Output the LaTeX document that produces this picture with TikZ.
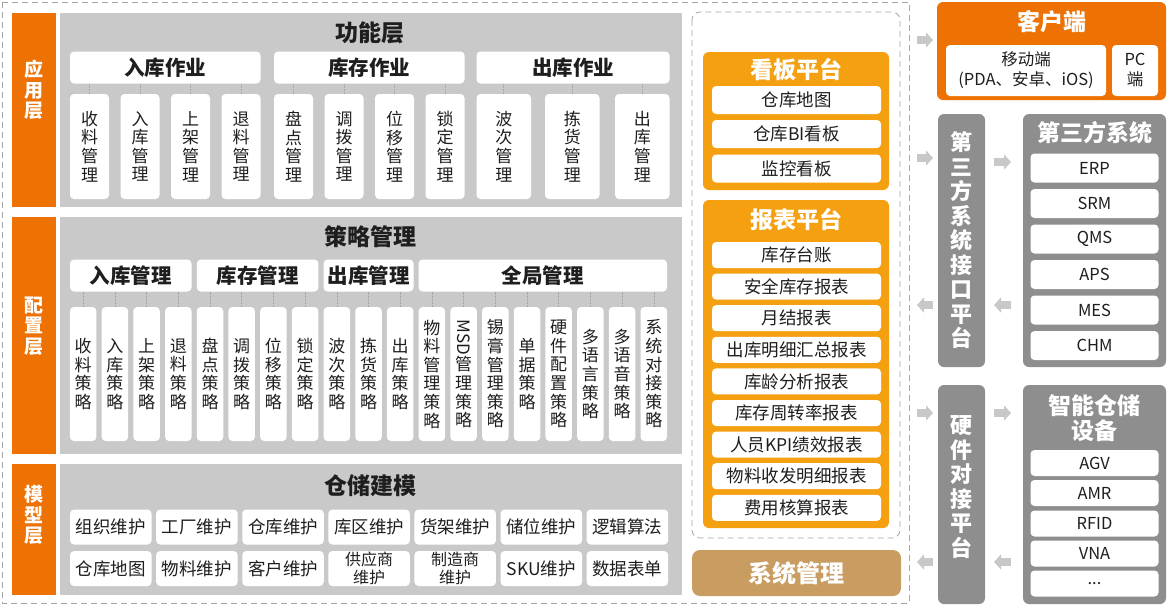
\documentclass[tikz,border=0pt]{standalone}
\usepackage{fontspec}
\usepackage{graphicx}
\setmainfont{Noto Sans CJK SC}
\usetikzlibrary{arrows.meta}
\definecolor{deeporange}{HTML}{ED7203}
\definecolor{lightorange}{HTML}{F4A011}
\definecolor{panelgray}{HTML}{C9C9C9}
\definecolor{bargray}{HTML}{8E8E8E}
\definecolor{sandbrown}{HTML}{C99C61}
\definecolor{arrowgray}{HTML}{C8C8C8}
\definecolor{framegray}{HTML}{A5A5A5}
\definecolor{txtdark}{HTML}{1E1E1E}
\tikzstyle{blk} = [line width=8pt, arrowgray, -{Triangle[length=7pt,width=15pt]}]

\begin{document}
\begin{tikzpicture}[x=1pt, y=-1pt]
    \tikzstyle{every node}=[inner sep=0pt, text=txtdark, font=\fontsize{17}{18.6}\selectfont]
    \tikzstyle{frame} = [draw=framegray, line width=0.8pt, dash pattern=on 6pt off 4pt]
    \tikzstyle{layer} = [fill=deeporange, minimum width=44pt]
    \tikzstyle{layertxt} = [text=white, align=center, font=\fontsize{19}{20.5}\selectfont\bfseries]
    \tikzstyle{panel} = [fill=panelgray, minimum width=622pt]
    \tikzstyle{title} = [font=\fontsize{23}{26}\selectfont\bfseries]
    \tikzstyle{head} = [fill=white, rounded corners=4pt, minimum height=32pt, font=\fontsize{20.5}{24}\selectfont\bfseries]
    \tikzstyle{fitem} = [fill=white, rounded corners=4pt, align=center, minimum width=39pt, minimum height=105pt]
    \tikzstyle{citem} = [fill=white, rounded corners=4pt, align=center, minimum width=26.5pt, minimum height=134pt]
    \tikzstyle{mitem} = [fill=white, rounded corners=4pt, align=center, minimum width=81.5pt, minimum height=35pt, font=\fontsize{17.5}{19}\selectfont]
    \tikzstyle{link} = [draw=gray!70, line width=0.6pt, dash pattern=on 1.5pt off 1.5pt]
    \tikzstyle{platform} = [fill=lightorange, rounded corners=6pt, minimum width=186pt]
    \tikzstyle{ptitle} = [text=white, align=center, font=\fontsize{23}{25}\selectfont\bfseries]
    \tikzstyle{pitem} = [fill=white, rounded corners=4pt, minimum width=169pt, minimum height=26pt, font=\fontsize{17.5}{19}\selectfont]
    \tikzstyle{darkbar} = [fill=bargray, rounded corners=6pt, minimum width=47pt]
    \tikzstyle{darkbox} = [fill=bargray, rounded corners=6pt, minimum width=143pt]
    \tikzstyle{bartxt} = [text=white, align=center, font=\fontsize{22}{24.5}\selectfont\bfseries]
    \tikzstyle{sitem} = [fill=white, rounded corners=4pt, minimum width=128pt, font=\fontsize{16.5}{19}\selectfont]

    \useasboundingbox (0,0) rectangle (1168,606);

    % outer frames
    \draw[frame] (2,2) rectangle (909,603);
    \draw[frame, rounded corners=8pt] (692,12) rectangle (900,538);

    % layers
    \node[layer, minimum height=194pt](l1) at (33.5,110) {};
    \node[layer, minimum height=237pt](l2) at (33.5,335.5) {};
    \node[layer, minimum height=131pt](l3) at (33.5,529.5) {};
    \node[layertxt](t1) at (33.5,90) {应\\用\\层};
    \node[layertxt](t2) at (33.5,326) {配\\置\\层};
    \node[layertxt](t3) at (33.5,515) {模\\型\\层};

    \node[panel, minimum height=194pt](p1) at (370.5,110) {};
    \node[panel, minimum height=237pt](p2) at (370.5,335.5) {};
    \node[panel, minimum height=131pt](p3) at (370.5,529.5) {};

    % function layer
    \node[title](f0) at (370,33) {功能层};
    \node[head, minimum width=190.5pt](h1) at (165.25,67.5) {入库作业};
    \node[head, minimum width=190.5pt](h2) at (369.25,67.5) {库存作业};
    \node[head, minimum width=193pt](h3) at (573,67.5) {出库作业};

    \node[fitem](a1) at (89.5,146.5) {收\\料\\管\\理};
    \node[fitem](a2) at (140,146.5) {入\\库\\管\\理};
    \node[fitem](a3) at (190.5,146.5) {上\\架\\管\\理};
    \node[fitem](a4) at (241,146.5) {退\\料\\管\\理};
    \node[fitem](a5) at (293.5,146.5) {盘\\点\\管\\理};
    \node[fitem](a6) at (344,146.5) {调\\拨\\管\\理};
    \node[fitem](a7) at (394.5,146.5) {位\\移\\管\\理};
    \node[fitem](a8) at (445,146.5) {锁\\定\\管\\理};
    \node[fitem, minimum width=54.5pt](a9) at (503.75,146.5) {波\\次\\管\\理};
    \node[fitem, minimum width=54.5pt](a10) at (572.25,146.5) {拣\\货\\管\\理};
    \node[fitem, minimum width=54.5pt](a11) at (642.25,146.5) {出\\库\\管\\理};

    \draw[link] (a1) -- (a1 |- h1.south);
    \draw[link] (a2) -- (a2 |- h1.south);
    \draw[link] (a3) -- (a3 |- h1.south);
    \draw[link] (a4) -- (a4 |- h1.south);
    \draw[link] (a5) -- (a5 |- h2.south);
    \draw[link] (a6) -- (a6 |- h2.south);
    \draw[link] (a7) -- (a7 |- h2.south);
    \draw[link] (a8) -- (a8 |- h2.south);
    \draw[link] (a9) -- (a9 |- h3.south);
    \draw[link] (a10) -- (a10 |- h3.south);
    \draw[link] (a11) -- (a11 |- h3.south);

    % configuration layer
    \node[title](c0) at (370,237) {策略管理};
    \node[head, minimum width=121.5pt](g1) at (130.75,275.5) {入库管理};
    \node[head, minimum width=121.6pt](g2) at (257.6,275.5) {库存管理};
    \node[head, minimum width=90pt](g3) at (368.5,275.5) {出库管理};
    \node[head, minimum width=248.5pt](g4) at (542.8,275.5) {全局管理};

    \node[citem](b1) at (83.2,374) {收\\料\\策\\略};
    \node[citem](b2) at (114.9,374) {入\\库\\策\\略};
    \node[citem](b3) at (146.6,374) {上\\架\\策\\略};
    \node[citem](b4) at (178.3,374) {退\\料\\策\\略};
    \node[citem](b5) at (210,374) {盘\\点\\策\\略};
    \node[citem](b6) at (241.7,374) {调\\拨\\策\\略};
    \node[citem](b7) at (273.4,374) {位\\移\\策\\略};
    \node[citem](b8) at (305.1,374) {锁\\定\\策\\略};
    \node[citem](b9) at (336.8,374) {波\\次\\策\\略};
    \node[citem](b10) at (368.5,374) {拣\\货\\策\\略};
    \node[citem](b11) at (400.2,374) {出\\库\\策\\略};
    \node[citem](b12) at (431.9,374) {物\\料\\管\\理\\策\\略};
    \node[citem](b13) at (463.6,374) {\rotatebox[origin=c]{-90}{MSD}\\管\\理\\策\\略};
    \node[citem](b14) at (495.3,374) {锡\\膏\\管\\理\\策\\略};
    \node[citem](b15) at (527,374) {单\\据\\策\\略};
    \node[citem](b16) at (558.7,374) {硬\\件\\配\\置\\策\\略};
    \node[citem](b17) at (590.4,374) {多\\语\\言\\策\\略};
    \node[citem](b18) at (622.1,374) {多\\语\\音\\策\\略};
    \node[citem](b19) at (653.8,374) {系\\统\\对\\接\\策\\略};

    \draw[link] (b1) -- (b1 |- g1.south);
    \draw[link] (b2) -- (b2 |- g1.south);
    \draw[link] (b3) -- (b3 |- g1.south);
    \draw[link] (b4) -- (b4 |- g1.south);
    \draw[link] (b5) -- (b5 |- g2.south);
    \draw[link] (b6) -- (b6 |- g2.south);
    \draw[link] (b7) -- (b7 |- g2.south);
    \draw[link] (b8) -- (b8 |- g2.south);
    \draw[link] (b9) -- (b9 |- g3.south);
    \draw[link] (b10) -- (b10 |- g3.south);
    \draw[link] (b11) -- (b11 |- g3.south);
    \draw[link] (b12) -- (b12 |- g4.south);
    \draw[link] (b13) -- (b13 |- g4.south);
    \draw[link] (b14) -- (b14 |- g4.south);
    \draw[link] (b15) -- (b15 |- g4.south);
    \draw[link] (b16) -- (b16 |- g4.south);
    \draw[link] (b17) -- (b17 |- g4.south);
    \draw[link] (b18) -- (b18 |- g4.south);
    \draw[link] (b19) -- (b19 |- g4.south);

    % model layer
    \node[title](m0) at (370,486) {仓储建模};
    \node[mitem](m1) at (110.8,527) {组织维护};
    \node[mitem](m2) at (196.9,527) {工厂维护};
    \node[mitem](m3) at (283,527) {仓库维护};
    \node[mitem](m4) at (369.1,527) {库区维护};
    \node[mitem](m5) at (455.2,527) {货架维护};
    \node[mitem](m6) at (541.3,527) {储位维护};
    \node[mitem](m7) at (627.4,527) {逻辑算法};
    \node[mitem](m8) at (110.8,568.5) {仓库地图};
    \node[mitem](m9) at (196.9,568.5) {物料维护};
    \node[mitem](m10) at (283,568.5) {客户维护};
    \node[mitem, font=\fontsize{16}{18}\selectfont](m11) at (369.1,568.5) {供应商\\维护};
    \node[mitem, font=\fontsize{16}{18}\selectfont](m12) at (455.2,568.5) {制造商\\维护};
    \node[mitem](m13) at (541.3,568.5) {SKU维护};
    \node[mitem](m14) at (627.4,568.5) {数据表单};

    % board and report platforms
    \node[platform, minimum height=138pt](k0) at (796,121) {};
    \node[ptitle](k1) at (796,70) {看板平台};
    \node[pitem, minimum height=28pt](k2) at (796.5,100) {仓库地图};
    \node[pitem, minimum height=28pt](k3) at (796.5,134) {仓库BI看板};
    \node[pitem, minimum height=28pt](k4) at (796.5,168.5) {监控看板};

    \node[platform, minimum height=328pt](r0) at (796,364) {};
    \node[ptitle](r1) at (796,220) {报表平台};
    \node[pitem](r2) at (796.5,255) {库存台账};
    \node[pitem](r3) at (796.5,286.6) {安全库存报表};
    \node[pitem](r4) at (796.5,318.2) {月结报表};
    \node[pitem](r5) at (796.5,349.8) {出库明细汇总报表};
    \node[pitem](r6) at (796.5,381.4) {库龄分析报表};
    \node[pitem](r7) at (796.5,413) {库存周转率报表};
    \node[pitem](r8) at (796.5,444.6) {人员KPI绩效报表};
    \node[pitem](r9) at (796.5,476.2) {物料收发明细报表};
    \node[pitem](r10) at (796.5,507.8) {费用核算报表};

    \node[fill=sandbrown, rounded corners=8pt, minimum width=209pt, minimum height=46pt, text=white, font=\fontsize{24}{26}\selectfont\bfseries](s1) at (796.5,573) {系统管理};

    % client
    \node[fill=deeporange, rounded corners=6pt, minimum width=229pt, minimum height=98pt](u0) at (1051.5,51) {};
    \node[ptitle](u1) at (1051.5,22) {客户端};
    \node[fill=white, rounded corners=4pt, minimum width=160pt, minimum height=51pt, align=center, font=\fontsize{16.5}{20}\selectfont](u2) at (1026,70.5) {移动端\\(PDA、安卓、iOS)};
    \node[fill=white, rounded corners=4pt, minimum width=46pt, minimum height=51pt, align=center, font=\fontsize{16.5}{20}\selectfont](u3) at (1135,70.5) {PC\\端};

    % third party systems
    \node[darkbar, minimum height=253pt](e0) at (961.5,240.5) {};
    \node[bartxt](e1) at (961.5,240.5) {第\\三\\方\\系\\统\\接\\口\\平\\台};
    \node[darkbox, minimum height=253pt](e2) at (1094.5,240.5) {};
    \node[ptitle](e3) at (1094.5,133) {第三方系统};
    \node[sitem, minimum height=29pt](e4) at (1094.5,168) {ERP};
    \node[sitem, minimum height=29pt](e5) at (1094.5,203.5) {SRM};
    \node[sitem, minimum height=29pt](e6) at (1094.5,239) {QMS};
    \node[sitem, minimum height=29pt](e7) at (1094.5,274.5) {APS};
    \node[sitem, minimum height=29pt](e8) at (1094.5,310) {MES};
    \node[sitem, minimum height=29pt](e9) at (1094.5,345.5) {CHM};

    % hardware
    \node[darkbar, minimum height=219pt](w0) at (961.5,494.5) {};
    \node[bartxt](w1) at (961.5,487) {硬\\件\\对\\接\\平\\台};
    \node[darkbox, minimum height=219pt](w2) at (1094.5,494.5) {};
    \node[ptitle](w3) at (1094.5,418) {智能仓储\\设备};
    \node[sitem, minimum height=26pt](w4) at (1094.5,463) {AGV};
    \node[sitem, minimum height=26pt](w5) at (1094.5,493) {AMR};
    \node[sitem, minimum height=26pt](w6) at (1094.5,523.5) {RFID};
    \node[sitem, minimum height=26pt](w7) at (1094.5,553.5) {VNA};
    \node[sitem, minimum height=26pt](w8) at (1094.5,583.5) {...};

    % arrow ends
    \coordinate (q1) at (917,40);   \coordinate (q2) at (933,40);
    \coordinate (q3) at (917,158);  \coordinate (q4) at (933,158);
    \coordinate (q5) at (933,305);  \coordinate (q6) at (917,305);
    \coordinate (q7) at (917,413);  \coordinate (q8) at (933,413);
    \coordinate (q9) at (933,562);  \coordinate (q10) at (917,562);
    \coordinate (q11) at (994,162); \coordinate (q12) at (1011,162);
    \coordinate (q13) at (1011,305); \coordinate (q14) at (994,305);
    \coordinate (q15) at (994,413); \coordinate (q16) at (1011,413);
    \coordinate (q17) at (1011,562); \coordinate (q18) at (994,562);

    \draw[blk] (q1) -- (q2);
    \draw[blk] (q3) -- (q4);
    \draw[blk] (q5) -- (q6);
    \draw[blk] (q7) -- (q8);
    \draw[blk] (q9) -- (q10);
    \draw[blk] (q11) -- (q12);
    \draw[blk] (q13) -- (q14);
    \draw[blk] (q15) -- (q16);
    \draw[blk] (q17) -- (q18);

\end{tikzpicture}
\end{document}
